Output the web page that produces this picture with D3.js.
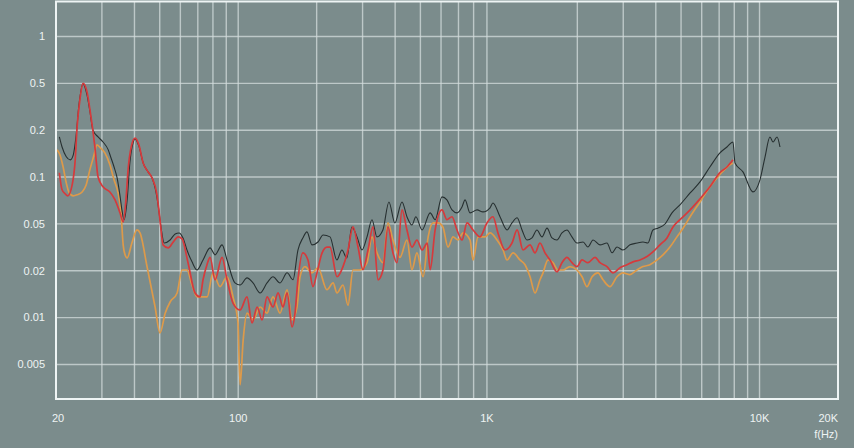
<!DOCTYPE html>
<html>
<head>
<meta charset="utf-8">
<script src="https://cdn.jsdelivr.net/npm/d3@7"></script>
<style>
  html, body { margin: 0; padding: 0; background: #7b8c8c; }
  svg { display: block; }
  .tick-label { font-family: "Liberation Sans", Arial, sans-serif; font-size: 11px; fill: #eef3f3; }
</style>
</head>
<body>
<div id="chart"></div>
<script>
var width = 854,
    height = 448;

// y ticks (equally spaced 1-2-5 steps) and x grid / labels
var yTicks = [1, 0.5, 0.2, 0.1, 0.05, 0.02, 0.01, 0.005];
var yTickLabels = ["1", "0.5", "0.2", "0.1", "0.05", "0.02", "0.01", "0.005"];
var xGrid = [30, 40, 50, 60, 70, 80, 90, 100, 200, 300, 400, 500, 600, 700, 800, 900,
             2000, 3000, 4000, 5000, 6000, 7000, 8000, 9000, 10000];
var xLabelAt = [20, 100, 900, 10000, 20000];
var xLabels = ["20", "100", "1K", "10K", "20K"];

// series: [frequency Hz, value]
var blackSeries = [
  [20.6,0.181],[21.1,0.156],[21.9,0.135],[22.7,0.129],[23.3,0.139],[23.9,0.186],[24.5,0.328],[25.4,0.495],
  [26.3,0.399],[27.0,0.287],[27.7,0.201],[29.0,0.181],[30.3,0.168],[31.7,0.150],[32.5,0.133],[33.4,0.116],
  [34.3,0.099],[35.2,0.0758],[35.8,0.0615],[36.5,0.0532],[37.5,0.0713],[38.4,0.123],[39.5,0.166],[40.2,0.176],
  [41.6,0.158],[43.2,0.123],[45.1,0.108],[46.7,0.099],[48.0,0.0853],[49.3,0.0663],[50.6,0.0462],[52.0,0.0344],
  [54.8,0.0365],[57.3,0.0411],[59.3,0.0419],[61.4,0.038],[63.6,0.030],[66.5,0.0238],[69.5,0.0203],[73.3,0.0247],
  [78.0,0.0313],[81.5,0.0273],[86.7,0.0332],[90.6,0.0247],[97.2,0.0167],[101.7,0.0162],[108.1,0.018],[114,0.0167],
  [121.3,0.0144],[129,0.0167],[136,0.0183],[144.7,0.0167],[154,0.0194],[162.3,0.0175],[169.5,0.030],[177,0.038],
  [183.6,0.0428],[191.9,0.0332],[202.4,0.0351],[211.7,0.0402],[225,0.0388],[239,0.0247],[250,0.030],[261,0.0257],
  [273,0.0471],[285.6,0.0388],[298.5,0.030],[312,0.0388],[326,0.0532],[340.7,0.0388],[359,0.0444],[378.7,0.0692],
  [399,0.0507],[425,0.0692],[444,0.0556],[464,0.049],[480.5,0.0556],[507.5,0.0444],[545,0.0589],[569.5,0.0532],
  [605,0.0746],[632,0.0713],[661,0.0615],[691,0.0589],[722,0.0643],[742,0.0713],[775,0.0589],[825,0.0615],
  [869,0.0597],[925,0.0634],[949,0.0681],[1010,0.0556],[1075,0.0444],[1123,0.0507],[1175,0.0548],[1227,0.0444],
  [1282,0.0365],[1340,0.038],[1400,0.0444],[1464,0.0388],[1530,0.046],[1599,0.038],[1671,0.0365],[1746,0.0419],
  [1825,0.0444],[1907,0.0388],[1993,0.0344],[2104,0.0351],[2196,0.0318],[2298,0.0365],[2443,0.0332],[2598,0.0344],
  [2717,0.0284],[2838,0.0318],[2992,0.030],[3184,0.0332],[3386,0.0344],[3572,0.0351],[3732,0.0344],[3900,0.0444],
  [4076,0.046],[4338,0.0499],[4615,0.0589],[4952,0.0663],[5416,0.079],[5910,0.0931],[6450,0.116],[7051,0.143],
  [7500,0.156],[7911,0.168],[8051,0.123],[8638,0.108],[9434,0.0803],[10037,0.096],[10500,0.135],[10963,0.181],
  [11265,0.168],[11673,0.181],[11980,0.156]
];

var redSeries = [
  [20.6,0.1066],[21.1,0.0828],[21.7,0.078],[22.2,0.0758],[23.07,0.089],[23.7,0.129],[24.1,0.214],[24.7,0.362],
  [25.4,0.50],[26.3,0.423],[27.0,0.297],[28.2,0.156],[29.0,0.100],[30.3,0.0865],[32.2,0.0802],[33.7,0.0713],
  [35.2,0.0589],[36.2,0.0515],[37.1,0.0713],[37.8,0.111],[38.8,0.154],[40.2,0.178],[41.6,0.161],[43.2,0.123],
  [45.1,0.108],[46.7,0.099],[48.8,0.0769],[50.1,0.0532],[51.5,0.0332],[53.9,0.0313],[56.3,0.035],[58.8,0.0388],
  [60.9,0.0373],[64.2,0.0234],[68.3,0.0144],[71.4,0.0136],[73.3,0.0175],[75.9,0.0225],[78.0,0.026],[81.5,0.0175],
  [86.7,0.026],[90.6,0.0175],[95.5,0.0124],[101.7,0.0112],[108.1,0.0136],[113,0.00924],[118.2,0.0117],[123.5,0.00966],
  [129,0.0136],[136,0.0117],[142.2,0.0144],[148.6,0.0117],[154,0.0144],[160.9,0.00871],[165.2,0.0107],[169.5,0.0175],
  [177,0.0284],[185.2,0.0247],[193.6,0.0158],[200.6,0.0194],[209.8,0.0284],[219.1,0.0318],[225,0.0318],[239.4,0.0183],
  [252.4,0.0217],[263.8,0.030],[275.7,0.0471],[288.2,0.0318],[301,0.0204],[314.8,0.030],[329,0.0471],[343.8,0.0175],
  [359.4,0.0204],[375.5,0.0471],[392.4,0.0284],[406.5,0.0234],[425,0.0615],[444,0.0444],[464,0.0318],[485,0.0365],
  [507.5,0.030],[531,0.0344],[545,0.0204],[569.5,0.0444],[605,0.0615],[632,0.0532],[661,0.0556],[691,0.0444],
  [722,0.0365],[755,0.0507],[796,0.0444],[846,0.0388],[900,0.0507],[949,0.0556],[992,0.0419],[1056,0.030],
  [1123,0.0344],[1175,0.0444],[1238,0.030],[1317,0.0332],[1376,0.0284],[1438,0.0344],[1503,0.0284],[1571,0.0247],
  [1671,0.0197],[1746,0.0234],[1825,0.026],[1907,0.0234],[1993,0.0217],[2085,0.0247],[2196,0.0234],[2339,0.026],
  [2443,0.0234],[2598,0.0217],[2740,0.0194],[2915,0.0212],[3101,0.0225],[3270,0.0238],[3478,0.0247],[3700,0.0264],
  [3900,0.0289],[4149,0.0332],[4415,0.038],[4656,0.0471],[4952,0.0532],[5416,0.0615],[5910,0.0724],[6450,0.0865],
  [7051,0.107],[7500,0.116],[7911,0.129]
];

var orangeSeries = [
  [20.2,0.150],[20.7,0.139],[21.3,0.116],[21.9,0.0917],[22.4,0.0802],[23.3,0.0758],[24.1,0.0769],[25.2,0.0802],
  [26.1,0.089],[27.0,0.112],[28.0,0.139],[28.7,0.161],[29.5,0.155],[30.8,0.143],[32.2,0.120],[33.4,0.096],
  [34.6,0.0791],[35.5,0.0597],[36.2,0.0332],[36.8,0.0273],[37.5,0.0257],[39.1,0.0344],[40.9,0.0444],[42.0,0.0419],
  [44.7,0.0217],[48.0,0.0117],[50.1,0.00797],[52.5,0.0107],[54.8,0.0126],[58.3,0.0144],[60.9,0.0203],[63.6,0.0203],
  [66.5,0.0162],[69.5,0.0136],[76.0,0.0136],[80.0,0.0194],[85.2,0.0158],[90.6,0.0183],[95.5,0.0136],[99.8,0.00924],
  [101.7,0.00335],[104.5,0.00719],[108.1,0.0107],[114,0.00966],[121.3,0.0117],[129,0.0107],[136,0.0136],[144.7,0.0107],
  [154,0.0151],[160.9,0.00966],[168.1,0.0117],[172.6,0.0183],[180.3,0.0217],[191.9,0.0194],[202.4,0.0212],[219,0.0151],
  [231.2,0.0167],[239.4,0.0144],[252.4,0.0162],[263.8,0.012],[275.7,0.0203],[293.3,0.0203],[312,0.0234],[326,0.0388],
  [340.7,0.0284],[359.4,0.0234],[375.5,0.0507],[392.4,0.0365],[417.5,0.026],[444,0.0365],[464,0.0204],[485,0.0284],
  [512,0.0183],[535.5,0.0388],[559.5,0.0507],[584.5,0.0507],[610,0.0471],[638,0.0318],[667,0.0388],[697,0.0365],
  [729,0.0419],[775,0.0365],[796,0.0247],[832,0.0388],[885,0.0388],[925,0.0419],[984,0.0365],[1038,0.030],
  [1075,0.0247],[1134,0.0284],[1205,0.0247],[1260,0.0225],[1317,0.0183],[1376,0.0144],[1438,0.0175],[1477,0.0194],
  [1544,0.0247],[1613,0.0234],[1686,0.0203],[1762,0.0203],[1874,0.0217],[1993,0.0203],[2085,0.0183],[2178,0.0158],
  [2278,0.0183],[2400,0.0194],[2509,0.0175],[2669,0.0158],[2838,0.0183],[2992,0.0194],[3184,0.0189],[3386,0.0203],
  [3572,0.0217],[3797,0.0225],[4040,0.0247],[4262,0.0273],[4533,0.0318],[4822,0.0388],[5089,0.046],[5416,0.0556],
  [5910,0.0692],[6450,0.0865],[7051,0.104],[7705,0.120],[7911,0.123]
];

var plot = { left: 56, right: 838, top: 1.5, bottom: 399 };

var x = d3.scaleLog()
    .domain([20, 20000])
    .range([plot.left, plot.right]);

// ticks are drawn equally spaced, so the y scale is a piecewise log scale
var yStep = 46.85, yFirst = 36.5;
var yDomain = [0.002].concat(yTicks.slice().reverse()).concat([2]);
var yRange = yDomain.map(function (d, i) { return yFirst + (yTicks.length - i) * yStep; });
var y = d3.scaleLog()
    .domain(yDomain)
    .range(yRange);

var svg = d3.select("#chart").append("svg")
    .attr("width", width)
    .attr("height", height);

svg.append("rect")
    .attr("width", width)
    .attr("height", height)
    .attr("fill", "#7b8c8c");

var grid = svg.append("g").attr("class", "grid");

grid.selectAll("line.v")
    .data(xGrid)
    .enter().append("line")
    .attr("class", "v")
    .attr("x1", function (d) { return x(d); })
    .attr("x2", function (d) { return x(d); })
    .attr("y1", plot.top)
    .attr("y2", plot.bottom)
    .attr("stroke", "#d3dcdc")
    .attr("stroke-opacity", 0.75)
    .attr("stroke-width", 1.4);

grid.selectAll("line.h")
    .data(yTicks)
    .enter().append("line")
    .attr("class", "h")
    .attr("x1", plot.left)
    .attr("x2", plot.right)
    .attr("y1", function (d) { return y(d); })
    .attr("y2", function (d) { return y(d); })
    .attr("stroke", "#d3dcdc")
    .attr("stroke-opacity", 0.75)
    .attr("stroke-width", 1.4);

var line = d3.line()
    .x(function (d) { return x(d[0]); })
    .y(function (d) { return y(d[1]); })
    .curve(d3.curveMonotoneX);

var clip = svg.append("clipPath").attr("id", "clip")
    .append("rect")
    .attr("x", plot.left).attr("y", plot.top)
    .attr("width", plot.right - plot.left).attr("height", plot.bottom - plot.top);

var lines = svg.append("g").attr("clip-path", "url(#clip)");

lines.append("path")
    .datum(orangeSeries)
    .attr("d", line)
    .attr("fill", "none")
    .attr("stroke", "#dd9a4a")
    .attr("stroke-width", 1.7)
    .attr("stroke-linejoin", "round");

lines.append("path")
    .datum(blackSeries)
    .attr("d", line)
    .attr("fill", "none")
    .attr("stroke", "#273031")
    .attr("stroke-width", 1.1)
    .attr("stroke-linejoin", "round");

lines.append("path")
    .datum(redSeries)
    .attr("d", line)
    .attr("fill", "none")
    .attr("stroke", "#d63a3c")
    .attr("stroke-width", 1.7)
    .attr("stroke-linejoin", "round");

// frame
svg.append("rect")
    .attr("x", plot.left)
    .attr("y", plot.top)
    .attr("width", plot.right - plot.left)
    .attr("height", plot.bottom - plot.top)
    .attr("fill", "none")
    .attr("stroke", "#eef4f4")
    .attr("stroke-width", 2);

// y labels
svg.selectAll("text.ylab")
    .data(yTicks)
    .enter().append("text")
    .attr("class", "tick-label ylab")
    .attr("x", 45)
    .attr("y", function (d) { return y(d); })
    .attr("dy", "0.35em")
    .attr("text-anchor", "end")
    .text(function (d, i) { return yTickLabels[i]; });

// x labels
svg.selectAll("text.xlab")
    .data(xLabelAt)
    .enter().append("text")
    .attr("class", "tick-label xlab")
    .attr("x", function (d, i) { return i === 0 ? x(d) + 2 : x(d); })
    .attr("y", 422)
    .attr("text-anchor", function (d, i) { return i === xLabelAt.length - 1 ? "end" : "middle"; })
    .text(function (d, i) { return xLabels[i]; });

svg.append("text")
    .attr("class", "tick-label")
    .attr("x", plot.right)
    .attr("y", 438)
    .attr("text-anchor", "end")
    .text("f(Hz)");
</script>
</body>
</html>
